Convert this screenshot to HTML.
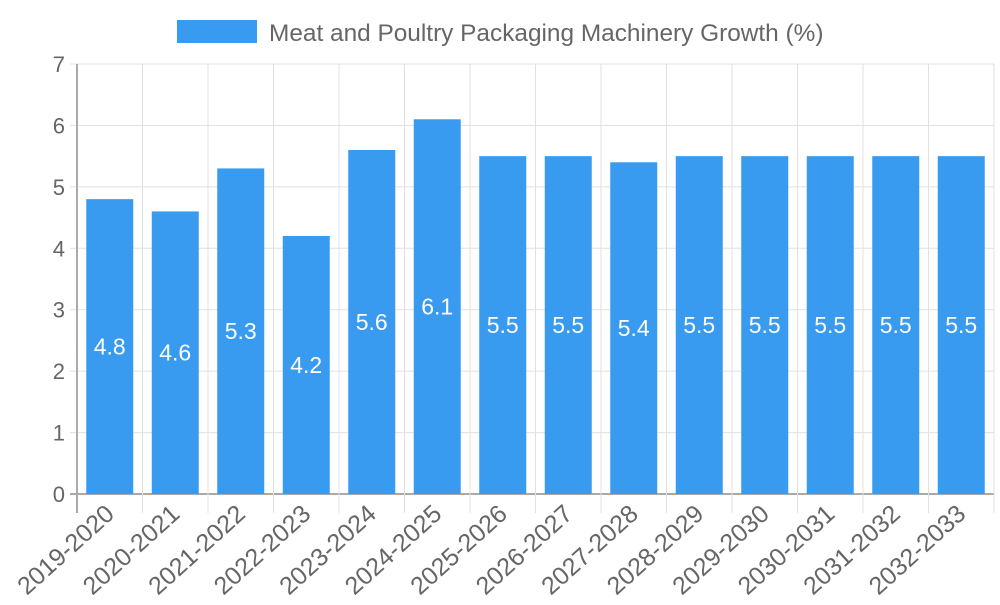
<!DOCTYPE html>
<html><head><meta charset="utf-8"><style>
body{margin:0;background:#fff;}
svg text{font-family:"Liberation Sans",sans-serif;}
</style></head><body>
<svg id="chart" width="1000" height="600"></svg>
<script>
const categories=["2019-2020","2020-2021","2021-2022","2022-2023","2023-2024","2024-2025","2025-2026","2026-2027","2027-2028","2028-2029","2029-2030","2030-2031","2031-2032","2032-2033"];
const growthValues=[4.8,4.6,5.3,4.2,5.6,6.1,5.5,5.5,5.4,5.5,5.5,5.5,5.5,5.5];
const yTicks=[0,1,2,3,4,5,6,7];
const NS="http://www.w3.org/2000/svg";
const svg=document.getElementById('chart');
const L=77,R=994,T=64,B=494,yMax=7;
const bw=(R-L)/categories.length;
const y=v=>B-(v/yMax)*(B-T);
const x=i=>L+i*bw;
function mk(t,a,p){const e=document.createElementNS(NS,t);for(const k in a)e.setAttribute(k,a[k]);(p||svg).appendChild(e);return e;}
const grid=mk('g',{});


yTicks.forEach(t=>{
 mk('line',{x1:L-7,x2:R,y1:y(t),y2:y(t),stroke:t===0?'#aaa':'#e0e0e0','stroke-width':t===0?2:1},grid);
 const tx=mk('text',{x:L-12,y:y(t)+8,'text-anchor':'end','font-size':22,fill:'#666'});
 tx.textContent=t;
 
 
});
for(let i=0;i<=categories.length;i++){
 mk('line',{x1:x(i),x2:x(i),y1:T,y2:B+19,stroke:i===0?'#aaa':'#e0e0e0','stroke-width':i===0?2:1},grid);
}
categories.forEach((c,i)=>{
 const v=growthValues[i];
 const cx=x(i)+bw/2;
 const r=mk('rect',{x:cx-23.5,y:y(v),width:47,height:B-y(v),fill:'#389bef'});
 
 
 const lt=mk('text',{x:cx,y:(y(v)+B)/2+8,'text-anchor':'middle','font-size':23,fill:'#fff'});
 lt.textContent=v;
 
 
 const xt=mk('text',{x:0,y:0,'text-anchor':'end','font-size':25,fill:'#666',transform:`translate(${cx+6},${B+22}) rotate(-42)`});
 xt.textContent=c;
 
 
});
mk('line',{x1:L,x2:L,y1:T,y2:B,stroke:'#aaa','stroke-width':2});
const lg=mk('g',{});


mk('rect',{x:177,y:20,width:80,height:23,fill:'#389bef'},lg);
const lt=mk('text',{x:269,y:41,'font-size':24.4,fill:'#666'},lg);
lt.textContent='Meat and Poultry Packaging Machinery Growth (%)';
</script>
</body></html>
